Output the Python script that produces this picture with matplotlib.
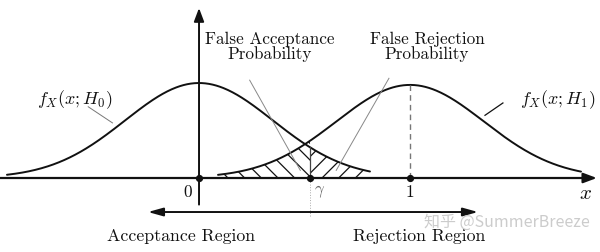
import matplotlib.pyplot as plt
import numpy as np

plt.rcParams["mathtext.fontset"] = "cm"
plt.rcParams["hatch.linewidth"] = 0.9

# hypothesis means, spread, threshold
means = [0.0, 1.0]
peaks = [1.0, 0.98]
sigma = 0.35
gamma = 0.526
# drawn span of each density relative to its mean
span = [-0.91, 0.81]

curve_labels = [r"$f_X(x;H_0)$", r"$f_X(x;H_1)$"]
tick_vals = [0.0, gamma, 1.0]
tick_labels = ["0", r"$\gamma$", "1"]
region_labels = ["Acceptance Region", "Rejection Region"]
prob_labels = ["False Acceptance\nProbability", "False Rejection\nProbability"]

ink = "#111111"
serif = "cmr10"


def density(x, m, p):
    return p * np.exp(-(x - m) ** 2 / (2 * sigma ** 2))


def main():
    fig = plt.figure(figsize=(6, 2.52), dpi=100)
    ax = fig.add_axes([0, 0, 1, 1])
    ax.set_xlim(-0.943, 1.900)
    ax.set_ylim(-0.779, 1.874)
    ax.axis("off")

    # axes with arrows
    ax.annotate("", xy=(1.885, 0), xytext=(-0.943, 0),
                arrowprops=dict(arrowstyle="-|>,head_length=0.8,head_width=0.3",
                                lw=1.6, color=ink, shrinkA=0, shrinkB=0))
    ax.annotate("", xy=(0, 1.79), xytext=(0, -0.28),
                arrowprops=dict(arrowstyle="-|>,head_length=0.8,head_width=0.3",
                                lw=1.4, color=ink, shrinkA=0, shrinkB=0))

    # the two densities
    for m, p in zip(means, peaks):
        x = np.linspace(m + span[0], m + span[1], 400)
        ax.plot(x, density(x, m, p), color=ink, lw=1.4, solid_capstyle="round")

    # hatched error areas
    xl = np.linspace(means[1] + span[0], gamma, 200)
    ax.fill_between(xl, 0, density(xl, means[1], peaks[1]), facecolor="none",
                    edgecolor=ink, hatch="\\\\", linewidth=0)
    xr = np.linspace(gamma, means[0] + span[1], 200)
    ax.fill_between(xr, 0, density(xr, means[0], peaks[0]), facecolor="none",
                    edgecolor=ink, hatch="//", linewidth=0)

    # threshold and mean guide lines
    ycross = density(gamma, means[0], peaks[0])
    ax.plot([gamma, gamma], [0, ycross], color="#444444", lw=0.9)
    ax.plot([gamma, gamma], [-0.40, 0], color="#aaaaaa", lw=0.7, ls=":")
    ax.plot([1, 1], [0, peaks[1]], color="#777777", lw=1.0, ls=(0, (4, 3)))

    ax.plot(tick_vals, [0] * 3, "o", color=ink, ms=4.2)
    ax.text(-0.055, -0.15, tick_labels[0], fontsize=12.5, family=serif,
            ha="center", va="center", color=ink)
    ax.text(gamma + 0.045, -0.14, tick_labels[1], fontsize=12,
            ha="center", va="center", color="#666666")
    ax.text(1.0, -0.15, tick_labels[2], fontsize=12.5, family=serif,
            ha="center", va="center", color=ink)
    ax.text(1.83, -0.16, r"$x$", fontsize=15, ha="center", va="center", color=ink)

    # region arrow
    ax.annotate("", xy=(-0.242, -0.358), xytext=(1.322, -0.358),
                arrowprops=dict(arrowstyle="<|-|>,head_length=0.9,head_width=0.25",
                                lw=1.4, color=ink, shrinkA=0, shrinkB=0))
    ax.text(-0.085, -0.615, region_labels[0], fontsize=12.8, family=serif,
            ha="center", va="center", color=ink)
    ax.text(1.043, -0.615, region_labels[1], fontsize=12.8, family=serif,
            ha="center", va="center", color=ink)

    # curve labels with leader lines
    ax.text(-0.59, 0.82, curve_labels[0], fontsize=13, ha="center",
            va="center", color=ink)
    ax.plot([-0.525, -0.41], [0.75, 0.58], color="#777777", lw=0.7)
    ax.text(1.70, 0.82, curve_labels[1], fontsize=13, ha="center",
            va="center", color=ink)
    ax.plot([1.44, 1.355], [0.79, 0.66], color=ink, lw=0.9)

    # probability labels with leader lines
    ax.text(0.334, 1.38, prob_labels[0], fontsize=12.3, family=serif,
            ha="center", va="center", color=ink, linespacing=1.0)
    ax.plot([0.24, 0.48], [1.03, 0.08], color="#888888", lw=0.7)
    ax.text(1.08, 1.38, prob_labels[1], fontsize=12.3, family=serif,
            ha="center", va="center", color=ink, linespacing=1.0)
    ax.plot([0.90, 0.65], [1.05, 0.08], color="#888888", lw=0.7)

    # watermark
    ax.text(1.46, -0.47, "知乎 @SummerBreeze", fontsize=11.5, color="#cccccc",
            ha="center", va="center", family=["Noto Sans CJK SC", "DejaVu Sans"])

    fig.savefig("out.png", dpi=100)


if __name__ == "__main__":
    main()
